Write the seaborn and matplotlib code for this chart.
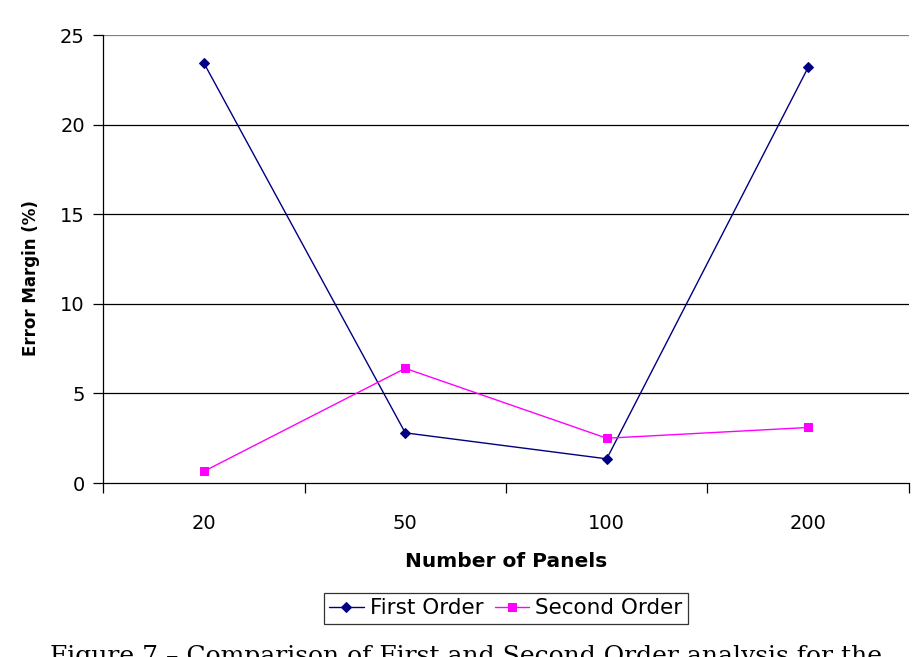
import seaborn as sns
import pandas as pd
import matplotlib.pyplot as plt
from matplotlib.ticker import FixedLocator

panels = ['20', '50', '100', '200']
first_order = [23.45, 2.8, 1.35, 23.2]
second_order = [0.65, 6.4, 2.5, 3.1]

df = pd.DataFrame({
    'Number of Panels': panels * 2,
    'Error': first_order + second_order,
    'Series': ['First Order'] * 4 + ['Second Order'] * 4,
})

sns.set_style('white')
plt.rcParams['font.family'] = ['DejaVu Sans']
plt.rcParams['text.color'] = 'black'
plt.rcParams['axes.labelcolor'] = 'black'
plt.rcParams['xtick.color'] = 'black'
plt.rcParams['ytick.color'] = 'black'

fig = plt.figure(figsize=(9.15, 6.57), dpi=100)
ax = fig.add_axes([0.1126, 0.2648, 0.8808, 0.6819])

# first order: navy diamonds
sns.lineplot(data=df[df['Series'] == 'First Order'], x='Number of Panels', y='Error',
             color='#000080', marker='D', markersize=5, markeredgecolor='#000080',
             linewidth=1, sort=False, ax=ax, label='First Order')
# second order: magenta squares
sns.lineplot(data=df[df['Series'] == 'Second Order'], x='Number of Panels', y='Error',
             color='#FF00FF', marker='s', markersize=6, markeredgecolor='#FF00FF',
             linewidth=1, sort=False, ax=ax, label='Second Order')

ax.set_xlim(-0.5, 3.5)
ax.set_ylim(0, 25)
ax.set_yticks([0, 5, 10, 15, 20, 25])
for y in [5, 10, 15, 20]:
    ax.axhline(y, color='black', linewidth=0.9, zorder=0)
ax.axhline(25, color='#808080', linewidth=0.9, zorder=0)

ax.set_xticks(range(len(panels)))
ax.set_xticklabels(panels)
ax.xaxis.set_minor_locator(FixedLocator([-0.5, 0.5, 1.5, 2.5, 3.5]))
ax.tick_params(axis='x', which='major', length=0, pad=22, labelsize=14)
ax.tick_params(axis='x', which='minor', length=7, width=0.9, color='black', direction='out', bottom=True)
ax.tick_params(axis='y', length=7, width=0.9, color='black', direction='out', left=True, pad=6, labelsize=14)

for side in ['top', 'right']:
    ax.spines[side].set_visible(False)
for side in ['left', 'bottom']:
    ax.spines[side].set_color('black')
    ax.spines[side].set_linewidth(0.9)

ax.set_xlabel('Number of Panels', fontsize=14.5, fontweight='bold', labelpad=14)
ax.set_ylabel('Error Margin (%)', fontsize=12, fontweight='bold')
ax.yaxis.set_label_coords(-0.078, 0.4576)

leg = ax.legend(loc='upper center', bbox_to_anchor=(0.5, -0.245), ncol=2, frameon=True,
                fontsize=15.5, handlelength=1.6, handletextpad=0.3, columnspacing=0.5,
                borderpad=0.25, borderaxespad=0, fancybox=False)
leg.get_frame().set_edgecolor('black')
leg.get_frame().set_linewidth(0.9)

fig.text(0.055, 0.0, 'Figure 7 \u2013 Comparison of First and Second Order analysis for the',
         fontsize=18, family='DejaVu Serif', va='center', ha='left')

plt.savefig('out.png', dpi=100)
